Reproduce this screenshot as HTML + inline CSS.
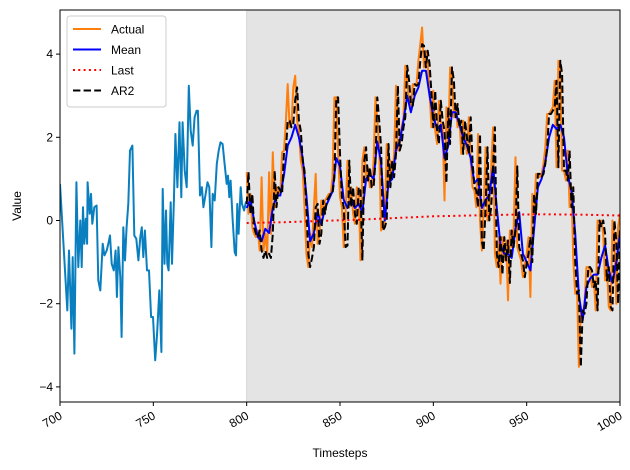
<!DOCTYPE html>
<html><head><meta charset="utf-8"><style>
html,body{margin:0;padding:0;background:#fff;}
svg{display:block;font-family:"Liberation Sans","DejaVu Sans",sans-serif;}
</style></head><body>
<svg id="chart" width="630" height="470" viewBox="0 0 630 470" xmlns="http://www.w3.org/2000/svg"></svg>
<script>
const histT=[700,703.9,704.8,706.1,706.8,707.7,708.8,709.8,710.9,711.6,712.3,713,713.8,714.5,714.8,715.9,716.6,717.3,718.4,719.6,720.5,721.6,722.9,723.8,725,725.9,726.8,727.7,728.8,729.8,730.5,731.3,732.3,733,733.9,734.8,735.7,736.6,737.5,738.8,739.8,740.9,742,743,743.8,744.6,745.5,746.6,747.7,748.8,749.8,751,752,753.2,754.3,755,756,756.8,757.5,758.2,759.3,760,761,761.8,762.9,764,765,765.7,766.8,767.9,769,770,771.1,772.1,773.2,773.9,775,776,776.8,777.9,779,780,781.1,781.8,782.9,784,785,786,787.1,788.2,789.3,790,790.7,791.4,792.5,793.6,794.3,795,795.7,796.8,797.5,798.6,799.6,800];
const histV=[0.88,-2.16,-0.72,-2.6,-0.88,-3.2,0.92,-1.12,0,-1.12,0.32,-0.56,0.04,-0.56,0.92,0.16,0.64,-0.08,0.32,0.36,-1.44,-1.68,-0.56,-0.84,-0.72,-0.56,-0.36,-1.04,-1.2,-0.72,-1.84,-0.64,-1.36,-2.8,-0.16,-0.96,-0.16,0.4,1.68,1.8,-0.36,-0.44,-0.96,-0.4,-0.16,-0.88,-0.24,-1.2,-1.2,-2.32,-2.32,-3.36,-2.72,-1.68,-3.16,0.76,-1.04,0.24,-1.04,-1.2,0.44,-1.04,0.48,2.08,0.8,2.36,0.56,2.36,1.2,0.8,3.24,2.16,1.8,2.48,2.64,2.64,0.6,0.8,0.32,0.6,0.92,0.8,-0.64,0.64,0.48,1.36,1.68,1.88,1.84,1.36,0.88,1.08,0.56,0.96,0,-0.76,-0.84,0.4,-0.32,0.8,0.4,0.24,0.44,0.4];
const actualStart=800;
const actualV=[1.16,0.16,0.64,-0.16,-0.32,-0.4,-0.24,-0.72,1.04,-0.72,
-0.32,-0.8,1.16,-0.32,1.64,0.32,0.8,0.72,0.64,1.64,
1.68,2.4,3.28,2.24,2.32,3.2,3.48,2.4,2.16,1.44,
1.2,0.32,-0.8,-1.12,-0.32,-0.64,0.32,1.12,-0.56,-0.32,
0.48,0.16,0.48,0.56,0.64,0.64,1.04,2.96,2.96,1.6,
0.56,0.32,-0.64,0.16,1.44,0.32,0.8,0.16,-0.08,0.8,
0.72,-0.96,1.44,1.76,0.96,1.28,0.8,0.8,1.44,2.96,
2.4,1.76,-0.24,-0.16,0,1.84,0.8,1.44,1.04,1.6,
3.24,1.68,1.84,2.24,2.48,3.72,3.36,2.8,2.76,3.28,
3.24,3.28,3.84,4.24,4.64,3.68,4.08,3.76,3.04,2.24,
3.12,2.16,1.84,2.88,2.4,2.16,0.48,2.72,1.84,3.68,
3.36,2.48,2.8,2.24,2.4,1.6,2.4,2.0,1.6,2.48,
1.44,0.8,0.72,0.32,2.08,0,-0.72,0.32,1.76,0,
0.32,1.28,2.24,-0.8,-1.12,-0.4,-1.52,-0.4,-0.96,-0.48,
-1.92,-0.24,-0.64,-0.24,1.52,-0.64,-0.8,-0.96,-1.36,-1.04,
-0.8,-0.4,-1.84,0.64,0.16,1.12,1.12,1.04,1.12,1.36,
1.76,2.56,2.56,2.64,2.72,3.36,1.28,3.84,3.52,1.2,
1.2,0.96,1.68,0.32,0.8,-0.96,-1.76,-1.68,-3.52,-2.16,
-2.24,-2.0,-1.12,-1.12,-1.2,-1.6,-1.44,-2.16,0,-0.16,
0,-0.32,-1.44,-1.12,-2.08,-2.16,0,-0.48,-2.0,-0.16,0.16];
const meanT=[800,802,804,806,808,810,812,814,816,818,820,822,824,826,828,830,832,834,836,838,840,842,844,846,848,850,852,854,856,858,860,862,864,866,868,870,872,874,876,878,880,882,884,886,888,890,892,894,896,898,900,902,904,906,908,910,912,914,916,918,920,922,924,926,928,930,932,934,936,938,940,942,944,946,948,950,952,954,956,958,960,962,964,966,968,970,972,974,976,978,980,982,984,986,988,990,992,994,996,998,1000];
const meanV=[0.3,0.5,0.0,-0.4,-0.5,-0.2,-0.3,0.3,0.6,0.6,1.1,1.8,2.0,2.3,2.0,1.5,0.6,-0.5,-0.3,0.2,-0.1,0.3,0.5,0.7,1.5,1.3,0.5,0.3,0.5,0.3,0.4,0.2,1.0,1.1,1.0,1.9,1.4,0.0,0.9,1.0,1.7,1.9,2.4,3.0,2.6,3.0,3.2,3.6,3.6,3.0,2.5,2.2,2.3,1.5,1.8,2.6,2.6,2.3,2.0,1.8,1.5,0.9,1.0,0.3,0.5,0.6,1.3,0.3,-0.6,-0.8,-0.8,-0.9,-0.2,0.2,-0.8,-1.0,-1.2,-0.2,0.8,1.0,1.4,2.0,2.3,2.2,2.3,2.0,1.1,0.7,-0.3,-1.8,-2.4,-1.6,-1.4,-1.3,-1.3,-0.9,-0.6,-1.2,-1.5,-1.0,-0.3];
const lastT=[800,820,840,860,880,900,920,940,960,980,1000];
const lastV=[-0.06,-0.04,-0.01,0.02,0.06,0.1,0.12,0.14,0.15,0.14,0.12];
const ar2Start=800;
const ar2V=[0.4,1.16,0.16,0.64,-0.16,-0.32,-0.4,-0.24,-0.72,-0.9,
-0.72,-0.9,-0.8,-0.9,-0.32,1.2,0.32,0.8,0.72,0.64,
1.64,1.68,2.4,2.4,2.24,2.32,2.9,3.2,2.4,2.16,
1.44,1.2,0.32,-0.8,-1.12,-0.9,-0.64,0.32,0.4,-0.56,
-0.32,0.48,0.16,0.48,0.56,0.64,0.64,1.04,2.96,2.96,
1.6,0.56,0.32,-0.64,-0.6,1.44,0.32,0.8,0.16,-0.08,
0.8,0.72,-0.96,1.44,1.76,0.96,1.28,0.8,0.8,1.44,
2.96,2.4,1.76,-0.24,-0.16,0,1.84,0.8,1.44,1.04,
1.6,3.24,1.68,1.84,2.24,2.48,3.72,3.36,2.8,2.76,
3.28,3.24,3.28,3.84,4.24,4.2,3.68,4.08,3.76,3.04,
2.24,3.12,2.16,1.84,2.88,2.4,2.16,0.9,2.72,1.84,
3.68,3.36,2.48,2.8,2.24,2.4,1.6,2.4,2.0,1.6,
2.48,1.44,0.8,0.72,0.32,2.08,-0.5,-0.72,0.32,1.76,
0,0.32,1.28,2.24,-0.8,-1.12,-0.4,-1.3,-0.4,-0.96,
-0.48,-1.5,-0.24,-0.64,-0.24,1.3,-0.64,-0.8,-0.96,-1.36,
-1.04,-0.8,-0.4,-1.0,0.64,0.16,1.12,1.12,1.04,1.12,
1.36,1.76,2.56,2.56,2.64,2.72,3.36,1.28,3.84,3.52,
1.2,1.2,0.96,1.68,0.32,0.8,-0.96,-1.76,-1.68,-3.52,
-2.16,-2.24,-2.0,-1.12,-1.12,-1.2,-1.6,-1.44,-2.16,0,
-0.16,0,-0.32,-1.44,-1.12,-2.08,-2.16,0,-0.48,-2.0,-0.16];
const xTicks=[700,750,800,850,900,950,1000];
const yTicks=[-4,-2,0,2,4];

const L=60,R=620,T=10,B=402;
const xMin=700,xMax=1000,yZero=220.5,yUnit=41.6;
const sx=v=>L+(v-xMin)/(xMax-xMin)*(R-L);
const sy=v=>yZero-v*yUnit;
const NS='http://www.w3.org/2000/svg';
const svg=document.getElementById('chart');
function mk(tag,attrs,parent){const e=document.createElementNS(NS,tag);for(const k in attrs)e.setAttribute(k,attrs[k]);(parent||svg).appendChild(e);return e;}

const clip=mk('clipPath',{id:'pc'});mk('rect',{x:L,y:T,width:R-L,height:B-T},clip);
const shade=mk('rect',{x:sx(800),y:T,width:sx(1000)-sx(800),height:B-T,fill:'#e4e4e4',stroke:'#d6d6d6','stroke-width':1});



function line(xs,ys,color,extra,name){
  const pts=xs.map((x,i)=>sx(x).toFixed(1)+','+sy(ys[i]).toFixed(1)).join(' ');
  const p=mk('polyline',Object.assign({points:pts,fill:'none',stroke:color,'stroke-width':2,'stroke-linejoin':'round','clip-path':'url(#pc)'},extra));
  
  
  return p;
}
line(histT,histV,'#0a7fbf',{},'history-line');
line(actualV.map((_,i)=>actualStart+i),actualV,'#ff7f0e',{},'actual-line');
line(meanT,meanV,'#0000ff',{},'mean-line');
line(lastT,lastV,'#ff0000',{'stroke-dasharray':'2,3.3','stroke-linecap':'butt'},'last-line');
line(ar2V.map((_,i)=>ar2Start+i),ar2V,'#000000',{'stroke-dasharray':'7.4,3.2'},'ar2-line');

const frame=mk('rect',{x:L,y:T,width:R-L,height:B-T,fill:'none',stroke:'#000','stroke-width':1});



xTicks.forEach(t=>{
  const x=sx(t);
  mk('line',{x1:x,y1:B,x2:x,y2:B+4,stroke:'#000','stroke-width':1});
  const tx=mk('text',{x:x+3,y:B+16,'font-size':12,'text-anchor':'end',transform:'rotate(-30 '+(x+3)+' '+(B+16)+')'});
  tx.textContent=t;
  
  
});
yTicks.forEach(v=>{
  const y=sy(v);
  mk('line',{x1:L-4,y1:y,x2:L,y2:y,stroke:'#000','stroke-width':1});
  const tx=mk('text',{x:L-7,y:y+4,'font-size':12,'text-anchor':'end'});
  tx.textContent=v<0?'\u2212'+Math.abs(v):String(v);
  
  
});
const xt=mk('text',{x:340,y:457,'font-size':12,'text-anchor':'middle'});xt.textContent='Timesteps';


const yt=mk('text',{x:21,y:206,'font-size':12,'text-anchor':'middle',transform:'rotate(-90 21 206)'});yt.textContent='Value';



const lg=mk('g',{});


mk('rect',{x:67,y:16,width:99,height:91,rx:3,fill:'#fff','fill-opacity':0.85,stroke:'#ccc','stroke-width':1},lg);
const entries=[['Actual','#ff7f0e',''],['Mean','#0000ff',''],['Last','#ff0000','2,3.3'],['AR2','#000','7.4,3.2']];
entries.forEach((e,i)=>{
  const y=29+i*20.5;
  const g=mk('g',{},lg);
  
  
  const a={x1:73,y1:y,x2:101,y2:y,stroke:e[1],'stroke-width':2};
  if(e[2])a['stroke-dasharray']=e[2];
  mk('line',a,g);
  const t=mk('text',{x:111,y:y+4.5,'font-size':12},g);t.textContent=e[0];
});
</script>
</body></html>
